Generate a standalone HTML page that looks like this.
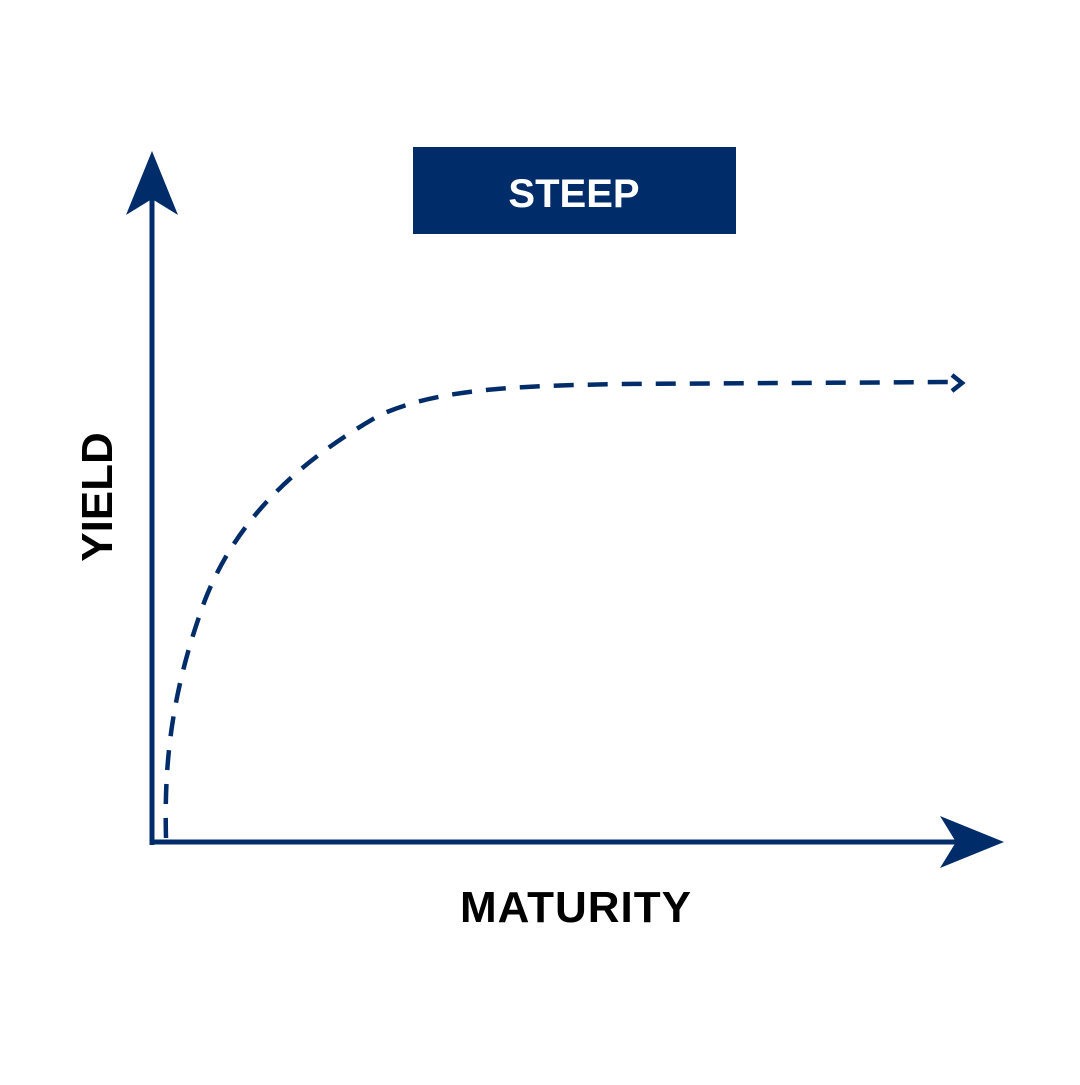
<!DOCTYPE html>
<html><head><style>body{margin:0;background:#fff}</style></head><body>
<svg width="1080" height="1080" xmlns="http://www.w3.org/2000/svg">
<rect width="1080" height="1080" fill="#fff"/>
<g fill="#002d6a">
<rect x="149.5" y="195" width="5" height="650"/>
<rect x="149.5" y="839.5" width="810" height="5"/>
<polygon points="152,151 178,215 152,199 126,215"/>
<polygon points="1004,842 940,816 956,842 940,868"/>
<rect x="413" y="147" width="323" height="87"/>
</g>
<path d="M166,838 C164,760 172,690 205,600 C240,510 310,455 380,415 C440,388 520,386 620,384 L955,382" fill="none" stroke="#002d6a" stroke-width="4.5" stroke-dasharray="20,14"/>
<polyline points="952,375 962,383 952,391" fill="none" stroke="#002d6a" stroke-width="4.5"/>
<text x="574" y="207" text-anchor="middle" font-family="Liberation Sans, sans-serif" font-size="40" font-weight="bold" fill="#fff">STEEP</text>
<text x="576" y="922" text-anchor="middle" font-family="Liberation Sans, sans-serif" font-size="44" font-weight="bold" letter-spacing="1" fill="#000">MATURITY</text>
<text transform="translate(112,497) rotate(-90)" text-anchor="middle" font-family="Liberation Sans, sans-serif" font-size="44" font-weight="bold" fill="#000">YIELD</text>
</svg>
</body></html>
